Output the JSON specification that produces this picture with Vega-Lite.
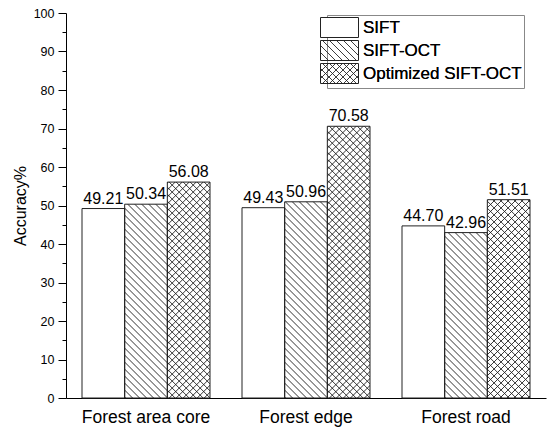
{
  "$schema": "https://vega.github.io/schema/vega-lite/v6.json",
  "width": 480,
  "height": 385,
  "autosize": "none",
  "padding": {"left": 66, "top": 13, "right": 4, "bottom": 34},
  "background": "white",
  "config": {"font": "Liberation Sans", "view": {"stroke": null}},
  "params": [
    {"name": "st", "value": [
      {"offset":0,"color":"transparent"},{"offset":0.0025,"color":"#222"},{"offset":0.005,"color":"transparent"},
      {"offset":0.02,"color":"transparent"},{"offset":0.0225,"color":"#222"},{"offset":0.025,"color":"transparent"},
      {"offset":0.04,"color":"transparent"},{"offset":0.0425,"color":"#222"},{"offset":0.045,"color":"transparent"},
      {"offset":0.06,"color":"transparent"},{"offset":0.0625,"color":"#222"},{"offset":0.065,"color":"transparent"},
      {"offset":0.08,"color":"transparent"},{"offset":0.0825,"color":"#222"},{"offset":0.085,"color":"transparent"},
      {"offset":0.1,"color":"transparent"},{"offset":0.1025,"color":"#222"},{"offset":0.105,"color":"transparent"},
      {"offset":0.12,"color":"transparent"},{"offset":0.1225,"color":"#222"},{"offset":0.125,"color":"transparent"},
      {"offset":0.14,"color":"transparent"},{"offset":0.1425,"color":"#222"},{"offset":0.145,"color":"transparent"},
      {"offset":0.16,"color":"transparent"},{"offset":0.1625,"color":"#222"},{"offset":0.165,"color":"transparent"},
      {"offset":0.18,"color":"transparent"},{"offset":0.1825,"color":"#222"},{"offset":0.185,"color":"transparent"},
      {"offset":0.2,"color":"transparent"},{"offset":0.2025,"color":"#222"},{"offset":0.205,"color":"transparent"},
      {"offset":0.22,"color":"transparent"},{"offset":0.2225,"color":"#222"},{"offset":0.225,"color":"transparent"},
      {"offset":0.24,"color":"transparent"},{"offset":0.2425,"color":"#222"},{"offset":0.245,"color":"transparent"},
      {"offset":0.26,"color":"transparent"},{"offset":0.2625,"color":"#222"},{"offset":0.265,"color":"transparent"},
      {"offset":0.28,"color":"transparent"},{"offset":0.2825,"color":"#222"},{"offset":0.285,"color":"transparent"},
      {"offset":0.3,"color":"transparent"},{"offset":0.3025,"color":"#222"},{"offset":0.305,"color":"transparent"},
      {"offset":0.32,"color":"transparent"},{"offset":0.3225,"color":"#222"},{"offset":0.325,"color":"transparent"},
      {"offset":0.34,"color":"transparent"},{"offset":0.3425,"color":"#222"},{"offset":0.345,"color":"transparent"},
      {"offset":0.36,"color":"transparent"},{"offset":0.3625,"color":"#222"},{"offset":0.365,"color":"transparent"},
      {"offset":0.38,"color":"transparent"},{"offset":0.3825,"color":"#222"},{"offset":0.385,"color":"transparent"},
      {"offset":0.4,"color":"transparent"},{"offset":0.4025,"color":"#222"},{"offset":0.405,"color":"transparent"},
      {"offset":0.42,"color":"transparent"},{"offset":0.4225,"color":"#222"},{"offset":0.425,"color":"transparent"},
      {"offset":0.44,"color":"transparent"},{"offset":0.4425,"color":"#222"},{"offset":0.445,"color":"transparent"},
      {"offset":0.46,"color":"transparent"},{"offset":0.4625,"color":"#222"},{"offset":0.465,"color":"transparent"},
      {"offset":0.48,"color":"transparent"},{"offset":0.4825,"color":"#222"},{"offset":0.485,"color":"transparent"},
      {"offset":0.5,"color":"transparent"},{"offset":0.5025,"color":"#222"},{"offset":0.505,"color":"transparent"},
      {"offset":0.52,"color":"transparent"},{"offset":0.5225,"color":"#222"},{"offset":0.525,"color":"transparent"},
      {"offset":0.54,"color":"transparent"},{"offset":0.5425,"color":"#222"},{"offset":0.545,"color":"transparent"},
      {"offset":0.56,"color":"transparent"},{"offset":0.5625,"color":"#222"},{"offset":0.565,"color":"transparent"},
      {"offset":0.58,"color":"transparent"},{"offset":0.5825,"color":"#222"},{"offset":0.585,"color":"transparent"},
      {"offset":0.6,"color":"transparent"},{"offset":0.6025,"color":"#222"},{"offset":0.605,"color":"transparent"},
      {"offset":0.62,"color":"transparent"},{"offset":0.6225,"color":"#222"},{"offset":0.625,"color":"transparent"},
      {"offset":0.64,"color":"transparent"},{"offset":0.6425,"color":"#222"},{"offset":0.645,"color":"transparent"},
      {"offset":0.66,"color":"transparent"},{"offset":0.6625,"color":"#222"},{"offset":0.665,"color":"transparent"},
      {"offset":0.68,"color":"transparent"},{"offset":0.6825,"color":"#222"},{"offset":0.685,"color":"transparent"},
      {"offset":0.7,"color":"transparent"},{"offset":0.7025,"color":"#222"},{"offset":0.705,"color":"transparent"},
      {"offset":0.72,"color":"transparent"},{"offset":0.7225,"color":"#222"},{"offset":0.725,"color":"transparent"},
      {"offset":0.74,"color":"transparent"},{"offset":0.7425,"color":"#222"},{"offset":0.745,"color":"transparent"},
      {"offset":0.76,"color":"transparent"},{"offset":0.7625,"color":"#222"},{"offset":0.765,"color":"transparent"},
      {"offset":0.78,"color":"transparent"},{"offset":0.7825,"color":"#222"},{"offset":0.785,"color":"transparent"},
      {"offset":0.8,"color":"transparent"},{"offset":0.8025,"color":"#222"},{"offset":0.805,"color":"transparent"},
      {"offset":0.82,"color":"transparent"},{"offset":0.8225,"color":"#222"},{"offset":0.825,"color":"transparent"},
      {"offset":0.84,"color":"transparent"},{"offset":0.8425,"color":"#222"},{"offset":0.845,"color":"transparent"},
      {"offset":0.86,"color":"transparent"},{"offset":0.8625,"color":"#222"},{"offset":0.865,"color":"transparent"},
      {"offset":0.88,"color":"transparent"},{"offset":0.8825,"color":"#222"},{"offset":0.885,"color":"transparent"},
      {"offset":0.9,"color":"transparent"},{"offset":0.9025,"color":"#222"},{"offset":0.905,"color":"transparent"},
      {"offset":0.92,"color":"transparent"},{"offset":0.9225,"color":"#222"},{"offset":0.925,"color":"transparent"},
      {"offset":0.94,"color":"transparent"},{"offset":0.9425,"color":"#222"},{"offset":0.945,"color":"transparent"},
      {"offset":0.96,"color":"transparent"},{"offset":0.9625,"color":"#222"},{"offset":0.965,"color":"transparent"},
      {"offset":0.98,"color":"transparent"},{"offset":0.9825,"color":"#222"},{"offset":0.985,"color":"transparent"}
    ]}
  ],
  "data": {"values": [
    {"cat": "Forest area core", "s": "SIFT", "v": 49.21},
    {"cat": "Forest area core", "s": "SIFT-OCT", "v": 50.34},
    {"cat": "Forest area core", "s": "Optimized SIFT-OCT", "v": 56.08},
    {"cat": "Forest edge", "s": "SIFT", "v": 49.43},
    {"cat": "Forest edge", "s": "SIFT-OCT", "v": 50.96},
    {"cat": "Forest edge", "s": "Optimized SIFT-OCT", "v": 70.58},
    {"cat": "Forest road", "s": "SIFT", "v": 44.70},
    {"cat": "Forest road", "s": "SIFT-OCT", "v": 42.96},
    {"cat": "Forest road", "s": "Optimized SIFT-OCT", "v": 51.51}
  ]},
  "encoding": {
    "x": {"field": "cat", "type": "nominal", "sort": null,
      "scale": {"paddingInner": 0.2, "paddingOuter": 0.1},
      "axis": {"title": null, "labelAngle": 0, "labelFontSize": 17.5, "labelColor": "black", "ticks": false, "domainColor": "black", "labelPadding": 10}},
    "xOffset": {"field": "s", "type": "nominal", "scale": {"domain": ["SIFT", "SIFT-OCT", "Optimized SIFT-OCT"], "paddingInner": 0, "paddingOuter": 0}},
    "y": {"field": "v", "type": "quantitative", "scale": {"domain": [0, 100], "nice": false},
      "axis": {"title": "Accuracy%", "titleFontSize": 16, "titleFontWeight": "normal", "titleColor": "black", "titlePadding": 5,
        "values": [0,5,10,15,20,25,30,35,40,45,50,55,60,65,70,75,80,85,90,95,100],
        "labelExpr": "datum.value % 10 === 0 ? datum.label : ''",
        "labelOverlap": false, "labelFlush": false,
        "labelFontSize": 12.5, "labelColor": "black", "labelPadding": 4,
        "tickSize": {"condition": {"test": "datum.value % 10 === 0", "value": 8}, "value": 4},
        "tickColor": "black", "domainColor": "black", "grid": false}}
  },
  "layer": [
    {
      "mark": {"type": "bar", "stroke": "#222", "strokeWidth": 1},
      "encoding": {
        "fill": {"field": "s", "type": "nominal",
          "scale": {"domain": ["SIFT", "SIFT-OCT", "Optimized SIFT-OCT"],
            "range": ["white",
              {"expr": "{gradient:'linear',x1:0,y1:1,x2:7.2126,y2:-2.7961,stops:st}"},
              {"expr": "{gradient:'linear',x1:0,y1:1,x2:7.2126,y2:-2.7961,stops:st}"}]},
          "legend": {"title": null, "orient": "none", "legendX": 261, "legendY": 2, "padding": 2,
            "fillColor": "white", "strokeColor": "#888",
            "symbolType": "M-1.9,-1H1.9V1H-1.9Z", "symbolSize": 400, "symbolOffset": 0, "labelOffset": 13,
            "labelFontSize": 17, "labelColor": "black", "rowPadding": -2,
            "symbolStrokeColor": "#222", "symbolStrokeWidth": 1},
          "condition": [
            {"test": "datum.cat==='Forest area core'&&datum.s==='SIFT-OCT'", "value": {"expr": "{gradient:'linear',x1:0,y1:1,x2:0.37918,y2:-0.72242,stops:st}"}},
            {"test": "datum.cat==='Forest edge'&&datum.s==='SIFT-OCT'", "value": {"expr": "{gradient:'linear',x1:0,y1:1,x2:0.37042,y2:-0.70334,stops:st}"}},
            {"test": "datum.cat==='Forest road'&&datum.s==='SIFT-OCT'", "value": {"expr": "{gradient:'linear',x1:0,y1:1,x2:0.51181,y2:-0.98406,stops:st}"}},
            {"test": "datum.cat==='Forest area core'&&datum.s==='Optimized SIFT-OCT'", "value": {"expr": "{gradient:'linear',x1:0,y1:1,x2:0.30830,y2:-0.56013,stops:st}"}},
            {"test": "datum.cat==='Forest edge'&&datum.s==='Optimized SIFT-OCT'", "value": {"expr": "{gradient:'linear',x1:0,y1:1,x2:0.19738,y2:-0.25705,stops:st}"}},
            {"test": "datum.cat==='Forest road'&&datum.s==='Optimized SIFT-OCT'", "value": {"expr": "{gradient:'linear',x1:0,y1:1,x2:0.36292,y2:-0.68683,stops:st}"}}
          ]
        }
      }
    },
    {
      "mark": {"type": "bar", "strokeWidth": 0},
      "encoding": {
        "fill": {"field": "s", "type": "nominal",
          "scale": {"domain": ["SIFT", "SIFT-OCT", "Optimized SIFT-OCT"],
            "range": ["transparent", "transparent",
              {"expr": "{gradient:'linear',x1:0,y1:0,x2:7.2126,y2:3.7961,stops:st}"}]},
          "legend": {"title": null, "orient": "none", "legendX": 261, "legendY": 2, "padding": 2,
            "fillColor": "transparent", "strokeColor": "transparent", "zindex": 1,
            "symbolType": "M-1.9,-1H1.9V1H-1.9Z", "symbolSize": 400, "symbolOffset": 0, "labelOffset": 13,
            "labelFontSize": 17, "labels": false, "rowPadding": -2,
            "symbolStrokeColor": "transparent", "symbolStrokeWidth": 1},
          "condition": [
            {"test": "datum.cat==='Forest area core'&&datum.s==='Optimized SIFT-OCT'", "value": {"expr": "{gradient:'linear',x1:0,y1:0,x2:0.30830,y2:1.56013,stops:st}"}},
            {"test": "datum.cat==='Forest edge'&&datum.s==='Optimized SIFT-OCT'", "value": {"expr": "{gradient:'linear',x1:0,y1:0,x2:0.19738,y2:1.25705,stops:st}"}},
            {"test": "datum.cat==='Forest road'&&datum.s==='Optimized SIFT-OCT'", "value": {"expr": "{gradient:'linear',x1:0,y1:0,x2:0.36292,y2:1.68683,stops:st}"}}
          ]
        }
      }
    },
    {
      "mark": {"type": "text", "baseline": "alphabetic", "dy": -5, "fontSize": 16, "color": "black"},
      "encoding": {"text": {"field": "v", "type": "quantitative", "format": ".2f"}}
    }
  ],
  "resolve": {"scale": {"fill": "independent"}}
}
